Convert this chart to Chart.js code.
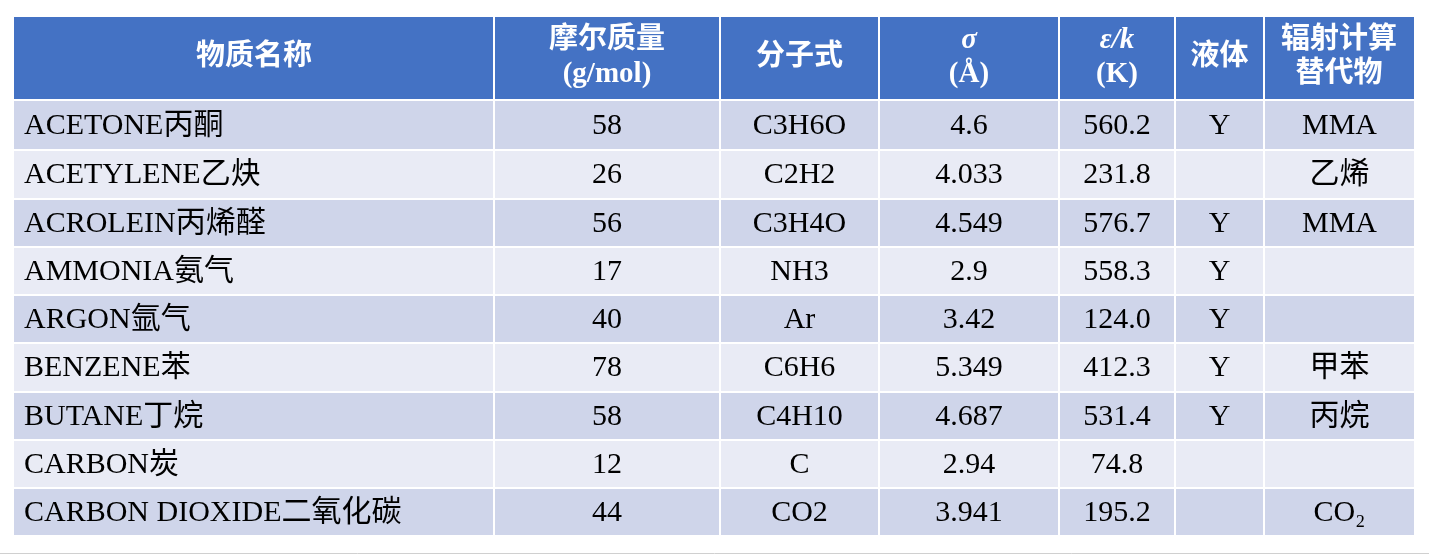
<!DOCTYPE html>
<html><head><meta charset="utf-8">
<script src="https://cdn.jsdelivr.net/npm/chart.js@4"></script>
<style>html,body{margin:0;padding:0;background:#fff}#c{display:block}</style>
</head><body>
<div style="width:1429px;height:557px"><canvas id="c"></canvas></div>
<script>
const headers = ["物质名称", "摩尔质量\n(g/mol)", "分子式", "σ\n(Å)", "ε/k\n(K)", "液体", "辐射计算\n替代物"];
const names = ["ACETONE丙酮","ACETYLENE乙炔","ACROLEIN丙烯醛","AMMONIA氨气","ARGON氩气","BENZENE苯","BUTANE丁烷","CARBON炭","CARBON DIOXIDE二氧化碳"];
const molarMass = ["58","26","56","17","40","78","58","12","44"];
const formulas = ["C3H6O","C2H2","C3H4O","NH3","Ar","C6H6","C4H10","C","CO2"];
const sigma = ["4.6","4.033","4.549","2.9","3.42","5.349","4.687","2.94","3.941"];
const epsK = ["560.2","231.8","576.7","558.3","124.0","412.3","531.4","74.8","195.2"];
const liquid = ["Y","","Y","Y","Y","Y","Y","",""];
const substitute = ["MMA","乙烯","MMA","","","甲苯","丙烷","","CO₂"];

const colBounds = [14,494,720,879,1059,1175,1264,1414];
const rowBounds = [17,99];
for (let i=1;i<=9;i++) rowBounds.push(Math.round(101+48.25*i));
const columns = [names, molarMass, formulas, sigma, epsK, liquid, substitute];

const tablePlugin = {
  id:'table',
  afterDraw(chart){
    const ctx = chart.ctx, xs = chart.scales.x, ys = chart.scales.y;
    const X = v=>xs.getPixelForValue(v), Y = v=>ys.getPixelForValue(v);
    ctx.save();
    for (let c=0;c<7;c++){
      ctx.fillStyle='#4472C4';
      ctx.fillRect(X(colBounds[c])+(c?1:0), Y(17), X(colBounds[c+1])-X(colBounds[c])-(c?1:0)-(c<6?1:0), Y(99)-Y(17));
      ctx.fillStyle='#fff';
      ctx.textAlign='center'; ctx.textBaseline='middle';
      const lines = headers[c].split('\n');
      const cx = (X(colBounds[c])+X(colBounds[c+1]))/2, cy=(Y(17)+Y(99))/2;
      lines.forEach((t,i)=>{
        const it = (c===3||c===4)&&i===0;
        ctx.font = (it?'italic ':'')+"bold 29px 'Liberation Serif','Noto Sans CJK SC'";
        ctx.fillText(t, cx, cy + (i-(lines.length-1)/2)*34);
      });
    }
    for (let r=0;r<9;r++){
      const top = r===0?101:rowBounds[r+1]+2, bot = rowBounds[r+2];
      for (let c=0;c<7;c++){
        ctx.fillStyle = r%2===0?'#CFD5EA':'#E9EBF5';
        const l = X(colBounds[c])+(c?1:0), rr = X(colBounds[c+1])-(c<6?1:0);
        ctx.fillRect(l, Y(top), rr-l, Y(bot)-Y(top));
        ctx.fillStyle='#000';
        ctx.font="30px 'Liberation Serif','Noto Sans CJK SC'";
        ctx.textBaseline='middle';
        const cy=(Y(top)+Y(bot))/2+1;
        if (c===0){ctx.textAlign='left'; ctx.fillText(columns[c][r], X(colBounds[0])+10, cy);}
        else {ctx.textAlign='center'; ctx.fillText(columns[c][r], (l+rr)/2, cy);}
      }
    }
    ctx.strokeStyle='#d0d0d0'; ctx.lineWidth=1;
    ctx.beginPath(); ctx.moveTo(0,Y(553)+0.5); ctx.lineTo(1429,Y(553)+0.5); ctx.stroke();
    ctx.restore();
  }
};

new Chart(document.getElementById('c'), {
  type:'scatter',
  data:{datasets:[{data:[]}]},
  options:{
    responsive:true, maintainAspectRatio:false, animation:false,
    layout:{padding:0},
    plugins:{legend:{display:false},tooltip:{enabled:false}},
    scales:{
      x:{type:'linear',min:0,max:1429,display:false},
      y:{type:'linear',min:0,max:557,reverse:true,display:false}
    }
  },
  plugins:[tablePlugin]
});
</script>
</body></html>
